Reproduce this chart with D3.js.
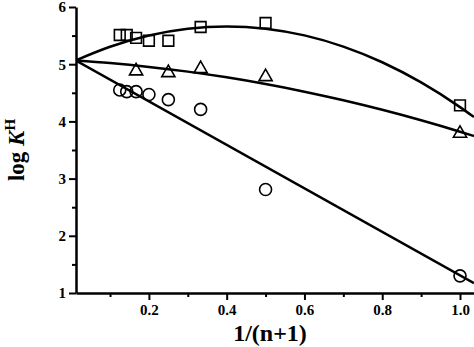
<!DOCTYPE html>
<html><head><meta charset="utf-8">
<script src="https://cdn.jsdelivr.net/npm/d3@7"></script>
<style>body{margin:0;background:#fff}svg{display:block}</style>
</head><body>
<script>
// Data
const xPts = [0.125, 0.143, 0.167, 0.2, 0.25, 0.333, 0.5, 1.0];
const squareY = [5.51, 5.51, 5.46, 5.41, 5.41, 5.65, 5.72, 4.28];
const triX = [0.167, 0.25, 0.333, 0.5, 1.0];
const triY = [4.88, 4.85, 4.92, 4.78, 3.79];
const circleY = [4.55, 4.52, 4.52, 4.47, 4.38, 4.21, 2.81, 1.30];
// fitted curves
const fitX = [0.0125, 0.1, 0.2, 0.3, 0.4, 0.5, 0.6, 0.7, 0.8, 0.9, 1.0, 1.036];
const fitSquare = [5.069, 5.305, 5.502, 5.620, 5.660, 5.621, 5.504, 5.308, 5.034, 4.681, 4.250, 4.075];
const fitTri = [5.065, 5.020, 4.953, 4.870, 4.770, 4.653, 4.520, 4.370, 4.203, 4.020, 3.820, 3.744];
const fitCircX = [0.0125, 1.036];
const fitCirc = [5.063, 1.173];
const xTicks = [0.2, 0.4, 0.6, 0.8, 1.0];
const xMinor = [0.1, 0.3, 0.5, 0.7, 0.9];
const yTicks = [1, 2, 3, 4, 5, 6];
const yMinor = [1.5, 2.5, 3.5, 4.5, 5.5];

const W = 474, H = 347;
const svg = d3.select("body").append("svg").attr("width", W).attr("height", H);
const x = d3.scaleLinear().domain([0.0125, 1.036]).range([76, 474]);
const y = d3.scaleLinear().domain([1, 6]).range([293, 7]);
const font = "'Liberation Serif', 'Times New Roman', serif";

// Axes
const gx = svg.append("g").attr("transform", "translate(0,293)");
gx.call(d3.axisBottom(x).tickValues(xTicks).tickFormat(d3.format(".1f")).tickSize(7).tickSizeOuter(0).tickPadding(4));
gx.append("g").call(d3.axisBottom(x).tickValues(xMinor).tickFormat("").tickSize(4).tickSizeOuter(0)).select(".domain").remove();
const gy = svg.append("g").attr("transform", "translate(76,0)");
gy.call(d3.axisLeft(y).tickValues(yTicks).tickFormat(d3.format("d")).tickSize(7).tickSizeOuter(0).tickPadding(3));
gy.append("g").call(d3.axisLeft(y).tickValues(yMinor).tickFormat("").tickSize(4).tickSizeOuter(0)).select(".domain").remove();
svg.selectAll(".domain").attr("stroke", "#000").attr("stroke-width", 2.5);
svg.selectAll(".tick line").attr("stroke", "#000").attr("stroke-width", 2);
svg.selectAll(".tick text").attr("font-family", font).attr("font-weight", "bold").attr("font-size", 15).attr("fill", "#000");

// Fit curves
const line = d3.line().x(d => x(d[0])).y(d => y(d[1])).curve(d3.curveMonotoneX);
const curves = [d3.zip(fitX, fitSquare), d3.zip(fitX, fitTri), d3.zip(fitCircX, fitCirc)];
svg.append("defs").append("clipPath").attr("id", "clip").append("rect").attr("x", 76).attr("y", 0).attr("width", 400).attr("height", 293);
svg.append("g").attr("clip-path", "url(#clip)").selectAll("path.fit").data(curves).join("path")
  .attr("d", line).attr("fill", "none").attr("stroke", "#000").attr("stroke-width", 2.5);

// Markers
const sq = d3.symbol().type(d3.symbolSquare).size(115);
const tr = d3.symbol().type(d3.symbolTriangle).size(75);
svg.append("g").selectAll("path").data(d3.zip(xPts, squareY)).join("path")
  .attr("d", sq).attr("transform", d => `translate(${x(d[0])},${y(d[1])})`)
  .attr("fill", "none").attr("stroke", "#000").attr("stroke-width", 1.6);
svg.append("g").selectAll("path").data(d3.zip(triX, triY)).join("path")
  .attr("d", tr).attr("transform", d => `translate(${x(d[0])},${y(d[1])})`)
  .attr("fill", "none").attr("stroke", "#000").attr("stroke-width", 1.6);
svg.append("g").selectAll("circle").data(d3.zip(xPts, circleY)).join("circle")
  .attr("cx", d => x(d[0])).attr("cy", d => y(d[1])).attr("r", 6)
  .attr("fill", "none").attr("stroke", "#000").attr("stroke-width", 1.6);

// Titles
svg.append("text").attr("x", 270).attr("y", 341).attr("text-anchor", "middle")
  .attr("font-family", font).attr("font-weight", "bold").attr("font-size", 24).text("1/(n+1)");
const yt = svg.append("text").attr("transform", "translate(24,150) rotate(-90)").attr("text-anchor", "middle")
  .attr("font-family", font).attr("font-weight", "bold").attr("font-size", 23);
yt.append("tspan").text("log ");
yt.append("tspan").attr("font-style", "italic").text("K");
yt.append("tspan").attr("font-size", 15).attr("dy", -9).text("H");
</script>
</body></html>
